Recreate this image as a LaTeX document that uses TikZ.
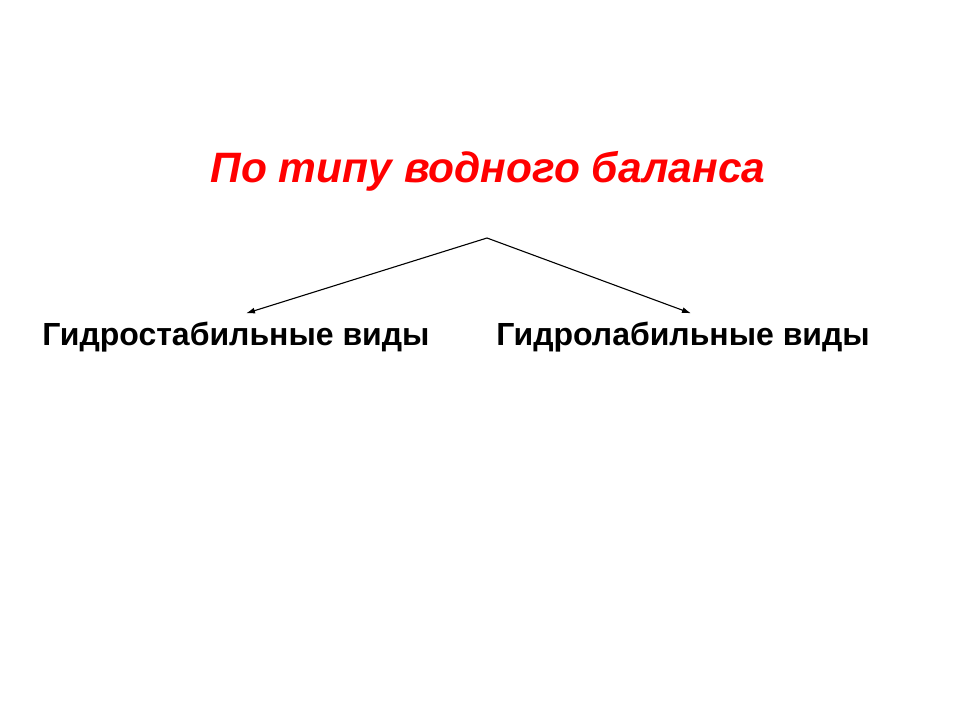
\documentclass[tikz,border=0pt]{standalone}
\usepackage{fontspec}
\setmainfont{Liberation Sans}
\usepackage{tikz}
\usetikzlibrary{arrows.meta}

\begin{document}
\begin{tikzpicture}[x=1pt, y=-1pt]
			\tikzset{titre/.style={text=red, font=\fontsize{42.5}{48}\selectfont\bfseries\itshape, inner sep=0pt, anchor=base},
				espece/.style={font=\fontsize{32}{38}\selectfont\bfseries, inner sep=0pt, anchor=base},
				fleche/.style={-{Latex[length=9pt, width=6pt]}, line width=1.1pt}};

			\useasboundingbox[fill=white] (0,0) rectangle (960,720);

			\node[titre]  (titre) at (488, 182) {По типу водного баланса};
			\coordinate   (sommet) at (487, 238);
			\node[espece] (stab)  at (236, 345) {Гидростабильные виды};
			\node[espece] (lab)   at (683, 345) {Гидролабильные виды};

			\draw[fleche] (sommet) to ([xshift=10pt, yshift=8pt]stab.north);
			\draw[fleche] (sommet) to ([xshift=8pt, yshift=8pt]lab.north);

		\end{tikzpicture}
\end{document}
